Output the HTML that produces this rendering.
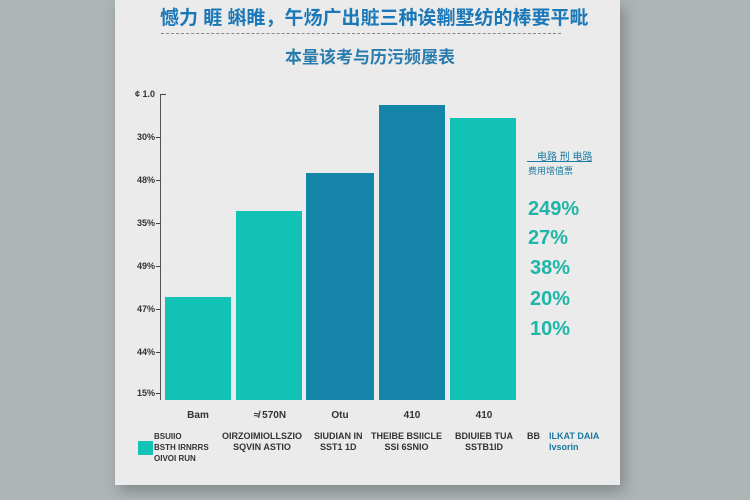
<!DOCTYPE html>
<html><head><meta charset="utf-8"><style>
body{margin:0;width:750px;height:500px;background:#aeb5b7;position:relative;overflow:hidden;font-family:"Liberation Sans","Noto Sans CJK SC",sans-serif}
.card{position:absolute;left:115px;top:0;width:505px;height:485px;background:#ebebeb;box-shadow:4px 6px 14px rgba(0,0,0,.25)}
.a{position:absolute;white-space:nowrap}
.bar{position:absolute;bottom:100px}
.t{position:absolute;right:595px;font-size:9px;font-weight:bold;color:#333}
.tk{position:absolute;left:156px;width:5px;height:1px;background:#444}
.xl{position:absolute;top:410px;font-size:10px;font-weight:bold;color:#333;text-align:center;width:70px}
.lg{position:absolute;top:431px;font-size:9px;font-weight:bold;color:#333;line-height:11px;text-align:center}
.p{position:absolute;left:528px;font-size:20px;color:#1fb5a8;font-weight:bold}
</style></head><body>
<div class="card"></div>
<div class="a" style="left:160px;top:3px;width:420px;text-align:center;font-size:19px;font-weight:bold;color:#1a78b8">憾力 睚 蝌睢，午炀广出賍三种诶鞩墅纺的棒要平毗</div>
<div class="a" style="left:161px;top:33px;width:400px;border-top:1px dashed #888"></div>
<div class="a" style="left:160px;top:43px;width:420px;text-align:center;font-size:17px;font-weight:bold;color:#2a7cae">本量该考与历污频屡表</div>
<div class="a" style="left:160px;top:94px;width:1px;height:306px;background:#555"></div>
<div class="t" style="top:89px">¢ 1.0</div><div class="tk" style="top:94px;left:161px"></div>
<div class="t" style="top:132px">30%</div><div class="tk" style="top:137px"></div>
<div class="t" style="top:175px">48%</div><div class="tk" style="top:180px"></div>
<div class="t" style="top:218px">35%</div><div class="tk" style="top:223px"></div>
<div class="t" style="top:261px">49%</div><div class="tk" style="top:266px"></div>
<div class="t" style="top:304px">47%</div><div class="tk" style="top:309px"></div>
<div class="t" style="top:347px">44%</div><div class="tk" style="top:352px"></div>
<div class="t" style="top:388px">15%</div><div class="tk" style="top:393px"></div>
<div class="bar" style="left:165px;width:66px;height:103px;background:#12c2b4"></div>
<div class="bar" style="left:236px;width:66px;height:189px;background:#12c2b4"></div>
<div class="bar" style="left:306px;width:68px;height:227px;background:#1485a8"></div>
<div class="bar" style="left:379px;width:66px;height:295px;background:#1485a8"></div>
<div class="bar" style="left:450px;width:66px;height:282px;background:#12c2b4"></div>
<div class="xl" style="left:163px">Bam</div>
<div class="xl" style="left:235px">≉ 570N</div>
<div class="xl" style="left:305px">Otu</div>
<div class="xl" style="left:377px">410</div>
<div class="xl" style="left:449px">410</div>
<div class="a" style="left:138px;top:441px;width:15px;height:14px;background:#12c2b4"></div>
<div class="lg" style="left:154px;text-align:left;font-size:8px">BSUIIO<br>BSTH IRNRRS<br>OIVOI RUN</div>
<div class="lg" style="left:222px">OIRZOIMIOLLSZIO<br>SQVIN ASTIO</div>
<div class="lg" style="left:314px">SIUDIAN IN<br>SST1 1D</div>
<div class="lg" style="left:371px">THEIBE BSIICLE<br>SSI 6SNIO</div>
<div class="lg" style="left:455px">BDIUIEB TUA<br>SSTB1ID</div>
<div class="lg" style="left:527px">BB</div>
<div class="lg" style="left:549px;color:#1a7aa0;text-align:left">ILKAT DAIA<br>Ivsorin</div>
<div class="a" style="left:537px;top:148px;font-size:10px;color:#1a7aa0">电路 刑 电路</div>
<div class="a" style="left:527px;top:161px;width:65px;height:1px;background:#1a7aa0"></div>
<div class="a" style="left:528px;top:164px;font-size:9px;color:#1a7aa0">费用增值票</div>
<div class="p" style="top:198px">249%</div>
<div class="p" style="top:227px">27%</div>
<div class="p" style="top:257px;left:530px">38%</div>
<div class="p" style="top:288px;left:530px">20%</div>
<div class="p" style="top:318px;left:530px">10%</div>
</body></html>
